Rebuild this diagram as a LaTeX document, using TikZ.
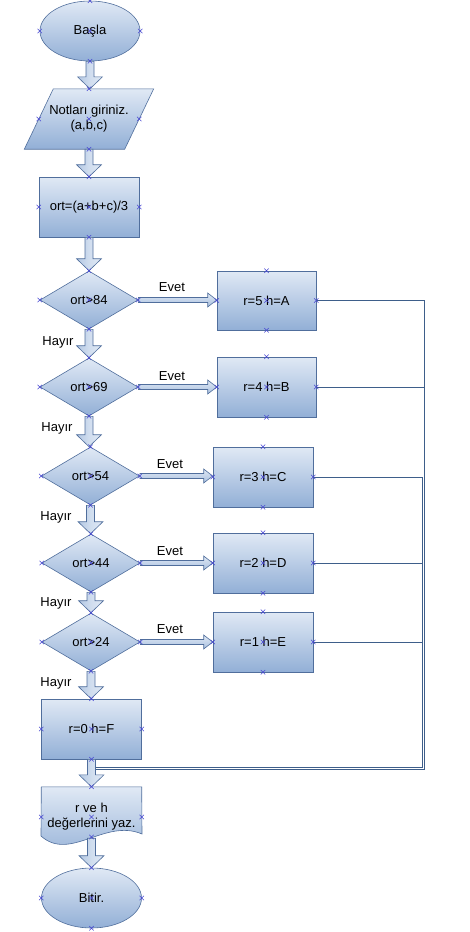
\documentclass[tikz,border=0pt]{standalone}
\usepackage{fontspec}
\setmainfont{Liberation Sans}
\usetikzlibrary{shapes.geometric,calc}
\pgfdeclarelayer{bg}
\pgfsetlayers{bg,main}
\definecolor{topc}{RGB}{224,233,245}
\definecolor{botc}{RGB}{146,175,214}
\definecolor{edge}{RGB}{80,110,156}
\definecolor{linec}{RGB}{62,94,138}
\definecolor{xmc}{RGB}{70,70,210}
\tikzset{
  fillgrad/.style={top color=topc, bottom color=botc},
  box/.style={draw=edge, line width=0.6pt, fillgrad},
  term/.style={box, ellipse, minimum width=100pt, minimum height=60pt, inner sep=0pt},
  proc/.style={box, rectangle, minimum width=100pt, minimum height=60pt, inner sep=0pt, align=center},
  decision/.style={box, diamond, aspect=1.7, minimum width=98pt, minimum height=58pt, inner sep=0pt},
  ghost/.style={rectangle, minimum width=100pt, minimum height=60pt, inner sep=0pt, align=center},
  lbl/.style={inner sep=0pt},
  conn/.style={draw=linec, line width=0.7pt},
  xm/.style={draw=xmc, line width=0.5pt},
  varrow/.style={draw=edge, line width=0.6pt, left color=botc!70, right color=topc, middle color=topc!80!botc,
    to path={let \p1=(\tikztostart), \p2=(\tikztotarget) in
      (\x1-4pt,\y1) -- (\x1+4pt,\y1) -- (\x1+4pt,\y2+12pt) -- (\x1+12.5pt,\y2+12pt) -- (\x1,\y2)
      -- (\x1-12.5pt,\y2+12pt) -- (\x1-4pt,\y2+12pt) -- cycle}},
  harrow/.style={draw=edge, line width=0.6pt, top color=topc, bottom color=botc!80,
    to path={let \p1=(\tikztostart), \p2=(\tikztotarget) in
      (\x1,\y1+2.5pt) -- (\x2-9pt,\y1+2.5pt) -- (\x2-9pt,\y1+7pt) -- (\x2,\y1)
      -- (\x2-9pt,\y1-7pt) -- (\x2-9pt,\y1-2.5pt) -- (\x1,\y1-2.5pt) -- cycle}},
}
\newcommand\xmk[1]{\draw[xm] (#1) +(-2.2,-2.2) -- +(2.2,2.2) +(-2.2,2.2) -- +(2.2,-2.2);}
\begin{document}
\begin{tikzpicture}[x=1pt,y=-1pt,font=\fontsize{13}{15}\selectfont]
\useasboundingbox (0,0) rectangle (470,932);
% main column
\node[term] (start) at (90,31) {Başla};
\node[ghost] (in) at (89,119) {Notları giriniz.\\(a,b,c)};
\node[proc] (calc) at (89,207) {ort=(a+b+c)/3};
\node[decision] (d1) at (89,300) {ort>84};
\node[decision] (d2) at (89,387) {ort>69};
\node[decision] (d3) at (90.5,476) {ort>54};
\node[decision] (d4) at (91,563) {ort>44};
\node[decision] (d5) at (91,642) {ort>24};
\node[proc] (f) at (91.5,729) {r=0 h=F};
\node[ghost] (doc) at (91.5,817) {r ve h\\değerlerini yaz.};
\node[term] (end) at (91.5,898) {Bitir.};
% right column
\node[proc, minimum width=99pt, minimum height=59pt] (b1) at (266.5,300.5) {r=5 h=A};
\node[proc, minimum width=99pt] (b2) at (266.5,387) {r=4 h=B};
\node[proc] (b3) at (263,477) {r=3 h=C};
\node[proc] (b4) at (263,563) {r=2 h=D};
\node[proc] (b5) at (263,642) {r=1 h=E};
% background shapes
\begin{pgfonlayer}{bg}
  \draw[box] ([xshift=14.5pt]in.north west) -- ([xshift=14.5pt]in.north east)
     -- ([xshift=-14.5pt]in.south east) -- ([xshift=-14.5pt]in.south west) -- cycle;
  \draw[box] (doc.north west) -- (doc.north east) -- (142,834)
     .. controls (105,818) and (70,862) .. (41,836) -- cycle;
\end{pgfonlayer}
% rails
\coordinate (railA) at (424.3,300);
\coordinate (railB) at (422.5,477);
\coordinate (jA) at (95,769);
\coordinate (jB) at (95,767);
\draw[conn] (b1.east) -- (b1.east -| railA) -- (railA |- jA) -- (jA);
\draw[conn] (b2.east) -- (b2.east -| railA);
\draw[conn] (b3.east) -- (b3.east -| railB) -- (railB |- jB) -- (jB);
\draw[conn] (b4.east) -- (b4.east -| railB);
\draw[conn] (b5.east) -- (b5.east -| railB);
% vertical block arrows
\draw[varrow] (start.south) to (in.north);
\draw[varrow] (in.south) to (calc.north);
\draw[varrow] (calc.south) to (d1.north);
\draw[varrow] (d1.south) to (d2.north);
\draw[varrow] (d2.south) to (d3.north);
\draw[varrow] (d3.south) to (d4.north);
\draw[varrow] (d4.south) to (d5.north);
\draw[varrow] (d5.south) to (f.north);
\draw[varrow] (f.south) to (doc.north);
\draw[varrow] ([yshift=9pt]doc.south) to (end.north);
% horizontal block arrows
\draw[harrow] (d1.east) to (b1.west);
\draw[harrow] (d2.east) to (b2.west);
\draw[harrow] (d3.east) to (b3.west);
\draw[harrow] (d4.east) to (b4.west);
\draw[harrow] (d5.east) to (b5.west);
% labels
\node[lbl] (e1) at (172,287) {Evet};
\node[lbl] (e2) at (172,376) {Evet};
\node[lbl] (e3) at (170,464) {Evet};
\node[lbl] (e4) at (170,551) {Evet};
\node[lbl] (e5) at (170,629) {Evet};
\node[lbl] (h1) at (58,342) {Hayır};
\node[lbl] (h2) at (57,428) {Hayır};
\node[lbl] (h3) at (56,517) {Hayır};
\node[lbl] (h4) at (56,603) {Hayır};
\node[lbl] (h5) at (56,683) {Hayır};
% selection markers
\foreach \n in {start,calc,d1,d2,d3,d4,d5,f,end,b1,b2,b3,b4,b5}{
  \xmk{\n.north}\xmk{\n.south}\xmk{\n.east}\xmk{\n.west}\xmk{\n.center}}
\xmk{in.north}\xmk{in.south}\xmk{in.east}\xmk{in.west}\xmk{in.center}
\xmk{doc.north}\xmk{doc.east}\xmk{doc.west}\xmk{doc.center}\xmk{91.5,837}
\end{tikzpicture}
\end{document}
